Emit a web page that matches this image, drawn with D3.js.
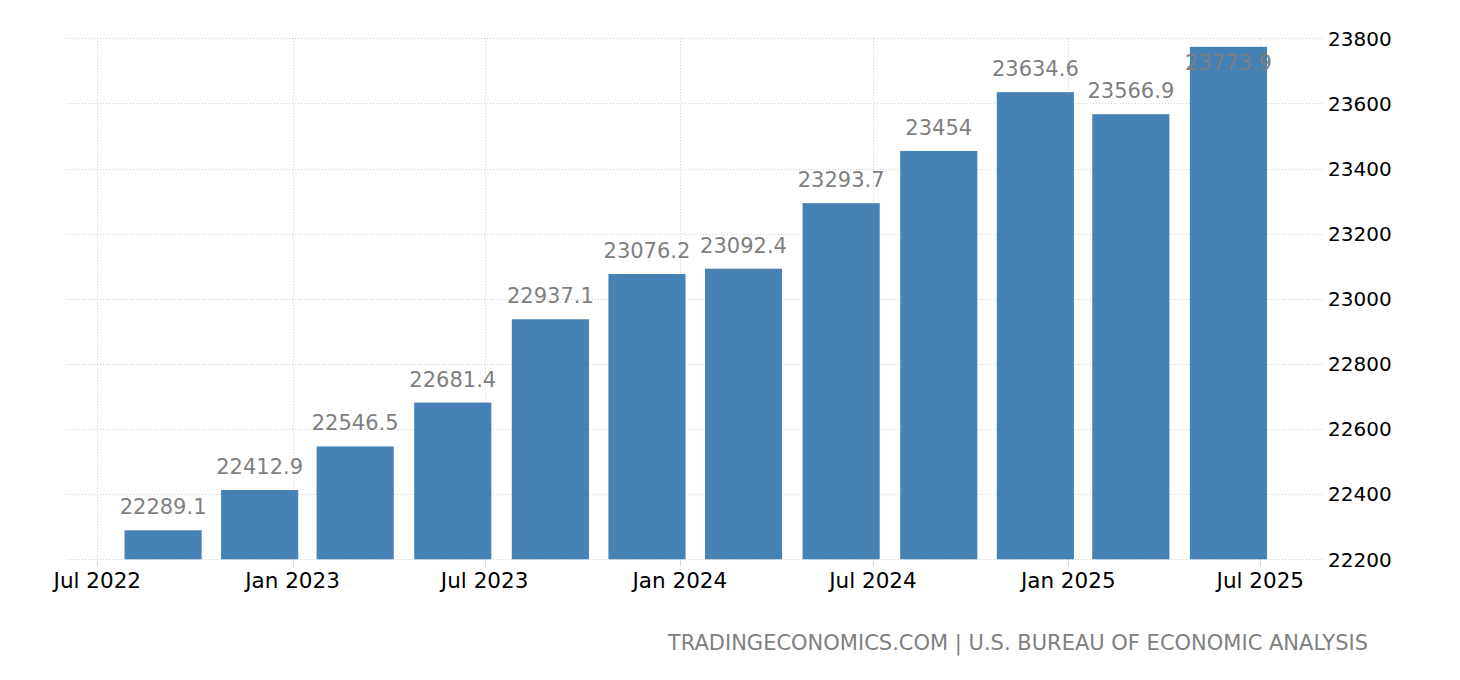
<!DOCTYPE html>
<html>
<head>
<meta charset="utf-8">
<script src="https://cdn.jsdelivr.net/npm/d3@7"></script>
<style>
  html, body { margin: 0; padding: 0; background: #fff; }
  svg { display: block; font-family: "DejaVu Sans", Verdana, sans-serif; }
</style>
</head>
<body>
<svg id="chart" width="1460" height="680"></svg>
<script>
// ---- data ----
const quarterEnds = ["2022-09-30","2022-12-31","2023-03-31","2023-06-30","2023-09-30","2023-12-31",
                     "2024-03-31","2024-06-30","2024-09-30","2024-12-31","2025-03-31","2025-06-30"];
const values = [22289.1, 22412.9, 22546.5, 22681.4, 22937.1, 23076.2,
                23092.4, 23293.7, 23454, 23634.6, 23566.9, 23773.9];
const yTicks = [22200, 22400, 22600, 22800, 23000, 23200, 23400, 23600, 23800];
const xTickDates = ["2022-07-01","2023-01-01","2023-07-01","2024-01-01","2024-07-01","2025-01-01","2025-07-01"];
const xTickLabels = ["Jul 2022","Jan 2023","Jul 2023","Jan 2024","Jul 2024","Jan 2025","Jul 2025"];
const sourceText = "TRADINGECONOMICS.COM | U.S. BUREAU OF ECONOMIC ANALYSIS";

// ---- layout ----
const plotLeft = 67, plotRight = 1323, plotTop = 38.3, plotBottom = 559.3;
const parse = d3.utcParse("%Y-%m-%d");
const svg = d3.select("#chart");

const x = d3.scaleUtc()
  .domain([parse("2022-07-01"), parse("2025-07-01")])
  .range([97.3, 1260.3]);
const y = d3.scaleLinear().domain([22200, 23800]).range([plotBottom, plotTop]);

const gridColor = "#cfcfcf";

// horizontal grid
svg.append("g").selectAll("line").data(yTicks).join("line")
  .attr("x1", plotLeft).attr("x2", plotRight)
  .attr("y1", d => Math.round(y(d)) + 0.5).attr("y2", d => Math.round(y(d)) + 0.5)
  .attr("stroke", gridColor).attr("stroke-width", 1).attr("stroke-dasharray", "1,2");

// vertical grid
const xt = xTickDates.map(parse);
svg.append("g").selectAll("line").data(xt).join("line")
  .attr("x1", d => Math.round(x(d)) + 0.5).attr("x2", d => Math.round(x(d)) + 0.5)
  .attr("y1", plotTop).attr("y2", plotBottom)
  .attr("stroke", gridColor).attr("stroke-width", 1).attr("stroke-dasharray", "1,2");
// tick marks below baseline
svg.append("g").selectAll("line").data(xt).join("line")
  .attr("x1", d => Math.round(x(d)) + 0.5).attr("x2", d => Math.round(x(d)) + 0.5)
  .attr("y1", plotBottom).attr("y2", plotBottom + 7)
  .attr("stroke", "#d8d8d8").attr("stroke-width", 1);

// bars
const data = quarterEnds.map((d, i) => ({ date: parse(d), value: values[i] }));
const centerOf = d => x(d3.utcMonth.floor(d.date));
const barW = (x(parse("2022-12-31")) - x(parse("2022-09-30"))) * 0.79;

svg.append("g").selectAll("rect").data(data).join("rect")
  .attr("x", d => centerOf(d) - barW / 2)
  .attr("width", barW)
  .attr("y", d => y(d.value))
  .attr("height", d => plotBottom - y(d.value))
  .attr("fill", "#4682b4");

// value labels
svg.append("g").selectAll("text").data(data).join("text")
  .attr("x", d => centerOf(d))
  .attr("y", d => Math.max(y(d.value) - 16, plotTop + 32))
  .attr("text-anchor", "middle")
  .attr("font-size", 21)
  .attr("fill", "#7f7f7f")
  .text(d => String(d.value));

// y axis labels (right)
svg.append("g").selectAll("text").data(yTicks).join("text")
  .attr("x", 1328)
  .attr("y", d => y(d))
  .attr("dy", "0.36em")
  .attr("font-size", 20)
  .attr("fill", "#000")
  .text(d => String(d));

// x axis labels
svg.append("g").selectAll("text").data(xt).join("text")
  .attr("x", d => x(d))
  .attr("y", 588)
  .attr("text-anchor", "middle")
  .attr("font-size", 21.5)
  .attr("fill", "#000")
  .text((d, i) => xTickLabels[i]);

// source
svg.append("text")
  .attr("x", 1368).attr("y", 650)
  .attr("text-anchor", "end")
  .attr("font-size", 21)
  .attr("fill", "#808080")
  .text(sourceText);
</script>
</body>
</html>
